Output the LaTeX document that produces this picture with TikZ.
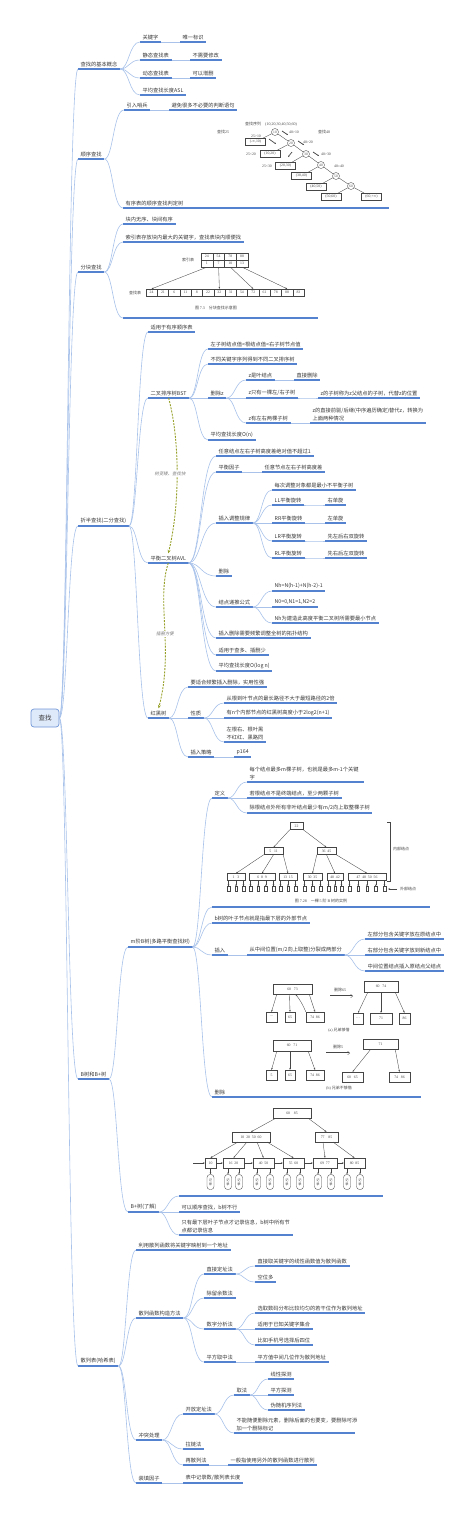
\documentclass[tikz,border=0pt]{standalone}
\usepackage{fontspec}
\setmainfont{Noto Sans CJK SC}
\newfontfamily\figfont{Liberation Serif}
\newfontfamily\slfont[FakeSlant=0.2]{Noto Sans CJK SC}
\usetikzlibrary{arrows.meta, calc}
\definecolor{mapB}{RGB}{84,130,207}
\definecolor{mapL}{RGB}{168,194,234}
\definecolor{mapT}{RGB}{55,55,55}
\definecolor{rootF}{RGB}{222,233,249}
\definecolor{rootD}{RGB}{112,150,214}
\definecolor{figO}{RGB}{150,160,40}
\definecolor{figN}{RGB}{125,125,125}
\definecolor{figK}{RGB}{70,70,70}
\tikzset{
  uline/.style={draw=mapB, line width=1.1pt},
  topic/.style={anchor=south west, inner xsep=2.5pt, inner ysep=2.2pt, text=mapT,
    font=\fontsize{5.25}{7.6}\selectfont,
    append after command={(\tikzlastnode.south west) edge[uline] (\tikzlastnode.south east)}},
  twidth/.style={text width=#1, align=left},
  rootbox/.style={draw=rootD, fill=rootF, rounded corners=3pt, line width=0.7pt,
    minimum width=28pt, minimum height=18pt, text=mapT, font=\fontsize{6.5}{7}\selectfont},
  br/.style={draw=mapL, line width=0.6pt},
  ftxt/.style={inner sep=0.5pt, text=figK, font=\fontsize{4}{4.5}\selectfont},
  ntxt/.style={inner sep=0.5pt, text=figK, font=\figfont\fontsize{3.8}{4}\selectfont},
  kbox/.style={draw=figK, line width=0.35pt, inner sep=0.4pt, minimum height=7pt, text=figK,
    font=\figfont\fontsize{3.8}{4}\selectfont},
  cnode/.style={draw=figK, circle, line width=0.35pt, inner sep=0pt, minimum size=7pt, text=figK,
    font=\figfont\fontsize{3.6}{4}\selectfont},
  rec/.style={draw=figK, fill=white, line width=0.35pt, rounded corners=3pt, minimum width=7pt, minimum height=15pt,
    inner sep=0pt, align=center, text=figK, font=\fontsize{3.2}{3.8}\selectfont},
  fline/.style={draw=figK, line width=0.35pt},
  farr/.style={fline, -{Stealth[length=2pt, width=1.5pt]}},
  hint/.style={draw=figO, line width=0.9pt, dash pattern=on 2pt off 1.2pt, -{Stealth[length=3.5pt, width=3pt]}},
  hintlbl/.style={fill=white, inner sep=0.6pt, text=figN, font=\slfont\fontsize{4.4}{5}\selectfont}
}
\begin{document}
\begin{tikzpicture}[x=1pt, y=-1pt]
\useasboundingbox (0,0) rectangle (474,1516);
% root and main branches
\node[rootbox] (root) at (45,718) {查找};
\node[topic] (gn) at (78,69) {查找的基本概念};
\node[topic] (sx) at (78,159) {顺序查找};
\node[topic] (fk) at (78,272) {分块查找};
\node[topic] (zb) at (78,526) {折半查找(二分查找)};
\node[topic] (bt) at (78,1079) {B树和B+树};
\node[topic] (sl) at (78,1366) {散列表(哈希表)};
% basic concepts
\node[topic] (gjz) at (140,42) {关键字};
\node[topic] (wy) at (180,42) {唯一标识};
\node[topic] (jt) at (140,60) {静态查找表};
\node[topic] (bx) at (190,60) {不需要修改};
\node[topic] (dt) at (140,78) {动态查找表};
\node[topic] (kz) at (190,78) {可以增删};
\node[topic] (asl) at (140,95) {平均查找长度ASL};
% sequential search
\node[topic] (sb) at (124,110) {引入哨兵};
\node[topic] (sb2) at (169,110) {避免很多不必要的判断语句};
\node[topic, twidth=261pt] (pd) at (123,208) {有序表的顺序查找判定树};
% block search
\node[topic] (fk1) at (123,224) {块内无序、块间有序};
\node[topic] (fk2) at (123,242) {索引表存放块内最大的关键字，查找表块内顺便找};
\node[topic, minimum width=195pt] (fk3) at (123,318) {};
% binary search
\node[topic] (yx) at (148,332) {适用于有序顺序表};
\node[topic] (bst) at (148,398) {二叉排序树BST};
\node[topic] (avl) at (148,563) {平衡二叉树AVL};
\node[topic] (rbt) at (148,718) {红黑树};
\node[topic] (b1) at (208,349) {左子树结点值<根结点值<右子树节点值};
\node[topic] (b2) at (208,364) {不同关键字序列得到不同二叉排序树};
\node[topic] (b3) at (208,398) {删除z};
\node[topic] (b4) at (208,440) {平均查找长度O(n)};
\node[topic] (z1) at (246,380) {z是叶结点};
\node[topic] (z1a) at (294,380) {直接删除};
\node[topic] (z2) at (246,398) {z只有一棵左/右子树};
\node[topic] (z2a) at (318,398) {z的子树称为z父结点的子树，代替z的位置};
\node[topic] (z3) at (246,423) {z有左右两棵子树};
\node[topic, twidth=111pt] (z3a) at (310,423) {z的直接前驱/后继(中序遍历确定)替代z，转换为\\上面两种情况};
% AVL
\node[topic] (a1) at (216,456) {任意结点左右子树高度差绝对值不超过1};
\node[topic] (a2) at (216,472) {平衡因子};
\node[topic] (a2a) at (262,472) {任意节点左右子树高度差};
\node[topic] (a3) at (216,523) {插入调整规律};
\node[topic] (a4) at (216,576) {删除};
\node[topic] (a5) at (216,607) {结点递推公式};
\node[topic] (a6) at (216,638) {插入删除需要频繁调整全树的拓扑结构};
\node[topic] (a7) at (216,655) {适用于查多、插删少};
\node[topic] (a8) at (216,671) {平均查找长度O(log n)};
\node[topic] (r0) at (272,490) {每次调整对象都是最小不平衡子树};
\node[topic] (r1) at (272,505) {LL平衡旋转};
\node[topic] (r1a) at (325,505) {右单旋};
\node[topic] (r2) at (272,523) {RR平衡旋转};
\node[topic] (r2a) at (325,523) {左单旋};
\node[topic] (r3) at (272,541) {LR平衡旋转};
\node[topic] (r3a) at (325,541) {先左后右双旋转};
\node[topic] (r4) at (272,558) {RL平衡旋转};
\node[topic] (r4a) at (325,558) {先右后左双旋转};
\node[topic] (n1) at (272,591) {Nh=N(h-1)+N(h-2)-1};
\node[topic] (n2) at (272,607) {N0=0,N1=1,N2=2};
\node[topic] (n3) at (272,623) {Nh为建造此高度平衡二叉树所需要最小节点};
% red-black tree
\node[topic] (h1) at (188,687) {要适合频繁插入删除，实用性强};
\node[topic] (h2) at (188,718) {性质};
\node[topic] (h3) at (188,757) {插入策略};
\node[topic] (h3a) at (234,757) {p164};
\node[topic] (x1) at (224,703) {从根到叶节点的最长路径不大于最短路径的2倍};
\node[topic] (x2) at (224,718) {有n个内部节点的红黑树高度小于2log2(n+1)};
\node[topic, twidth=37pt] (x3) at (224,742) {左根右、根叶黑\\不红红、黑路同};
% B-tree and B+ tree
\node[topic] (mb) at (128,947) {m阶B树(多路平衡查找树)};
\node[topic] (bp) at (128,1212) {B+树(了解)};
\node[topic] (dy) at (212,798) {定义};
\node[topic, minimum width=218pt] (bfig) at (212,907) {};
\node[topic] (yz) at (212,923) {b树的叶子节点就是指最下层的外部节点};
\node[topic] (cr) at (212,955) {插入};
\node[topic, twidth=204pt] (sc) at (212,1097) {删除};
\node[topic, twidth=112pt] (d1) at (247,782) {每个结点最多m棵子树，也就是最多m-1个关键\\字};
\node[topic] (d2) at (247,798) {若根结点不是终端结点，至少两颗子树};
\node[topic] (d3) at (247,813) {除根结点外所有非叶结点最少有m/2向上取整棵子树};
\node[topic] (cr1) at (247,955) {从中间位置(m/2向上取整)分裂成两部分};
\node[topic] (p1) at (365,939) {左部分包含关键字放在原结点中};
\node[topic] (p2) at (365,955) {右部分包含关键字放到新结点中};
\node[topic] (p3) at (365,971) {中间位置结点插入原结点父结点};
\node[topic, minimum width=204pt] (bpfig) at (179,1196) {};
\node[topic] (bp1) at (179,1212) {可以顺序查找，b树不行};
\node[topic, twidth=109pt] (bp2) at (179,1235) {只有最下层叶子节点才记录信息，b树中所有节\\点都记录信息};
% hashing
\node[topic] (s1) at (136,1250) {利用散列函数将关键字映射到一个地址};
\node[topic] (s2) at (136,1318) {散列函数构造方法};
\node[topic] (s3) at (136,1440) {冲突处理};
\node[topic] (s4) at (136,1483) {装填因子};
\node[topic] (s4a) at (183,1483) {表中记录数/散列表长度};
\node[topic] (g1) at (204,1274) {直接定址法};
\node[topic] (g1a) at (255,1266) {直接取关键字的线性函数值为散列函数};
\node[topic] (g1b) at (255,1282) {空位多};
\node[topic] (g2) at (204,1298) {除留余数法};
\node[topic] (g3) at (204,1329) {数字分析法};
\node[topic] (g3a) at (255,1313) {选取数码分布比较均匀的若干位作为散列地址};
\node[topic] (g3b) at (255,1329) {适用于已知关键字集合};
\node[topic] (g3c) at (255,1345) {比如手机号选择后四位};
\node[topic] (g4) at (204,1362) {平方取中法};
\node[topic] (g4a) at (255,1362) {平方值中间几位作为散列地址};
\node[topic] (k1) at (183,1414) {开放定址法};
\node[topic] (k1a) at (234,1395) {取法};
\node[topic] (t1) at (268,1379) {线性探测};
\node[topic] (t2) at (268,1395) {平方探测};
\node[topic] (t3) at (268,1410) {伪随机序列法};
\node[topic, twidth=116pt] (k1b) at (234,1433) {不能随便删除元素，删除后面的也要变，要删除可添\\加一个删除标记};
\node[topic] (k2) at (183,1449) {拉链法};
\node[topic] (k3) at (183,1465) {再散列法};
\node[topic] (k3a) at (228,1465) {一般指使用另外的散列函数进行散列};
% curved connectors
\foreach \b in {gn,sx,fk,zb,bt,sl}
  \draw[br] let \p1=(root.east), \p2=(\b.south west) in
    (\p1) .. controls ({\x1+0.45*(\x2-\x1)},\y1) and ({\x1+0.45*(\x2-\x1)},\y2) .. (\p2);
\foreach \a/\b in {gn/gjz,gn/jt,gn/dt,gn/asl,gjz/wy,jt/bx,dt/kz,sx/sb,sx/pd,sb/sb2,fk/fk1,fk/fk2,fk/fk3,
    zb/yx,zb/bst,zb/avl,zb/rbt,bst/b1,bst/b2,bst/b3,bst/b4,b3/z1,b3/z2,b3/z3,z1/z1a,z2/z2a,z3/z3a,
    avl/a1,avl/a2,avl/a3,avl/a4,avl/a5,avl/a6,avl/a7,avl/a8,a2/a2a,a3/r0,a3/r1,a3/r2,a3/r3,a3/r4,
    r1/r1a,r2/r2a,r3/r3a,r4/r4a,a5/n1,a5/n2,a5/n3,rbt/h1,rbt/h2,rbt/h3,h2/x1,h2/x2,h2/x3,h3/h3a,
    bt/mb,bt/bp,mb/dy,mb/bfig,mb/yz,mb/cr,mb/sc,dy/d1,dy/d2,dy/d3,cr/cr1,cr1/p1,cr1/p2,cr1/p3,
    bp/bpfig,bp/bp1,bp/bp2,sl/s1,sl/s2,sl/s3,sl/s4,s4/s4a,s2/g1,s2/g2,s2/g3,s2/g4,g1/g1a,g1/g1b,
    g3/g3a,g3/g3b,g3/g3c,g4/g4a,s3/k1,s3/k2,s3/k3,k1/k1a,k1/k1b,k1a/t1,k1a/t2,k1a/t3,k3/k3a}
  \draw[br] let \p1=(\a.south east), \p2=(\b.south west) in
    (\p1) .. controls ({\x1+0.45*(\x2-\x1)},\y1) and ({\x1+0.45*(\x2-\x1)},\y2) .. (\p2);
% dashed hints between tree kinds
\draw[hint] (bst.south) .. controls (180,440) and (180,505) .. (avl.north);
\node[hintlbl] (hl1) at (170,474) {树变矮、查找快};
\draw[hint] (avl.south) .. controls (156,600) and (174,650) .. (rbt.north);
\node[hintlbl] (hl2) at (165,634) {插删方便};
% decision tree of ordered sequential search
\node[ftxt] (sqt) at (271,124) {查找序列\quad{\figfont (10,20,30,40,50,60)}};
\node[ftxt] (q25) at (223,132) {查找{\figfont 25}};
\node[ftxt] (q40) at (324,132) {查找{\figfont 40}};
\foreach \v/\px/\py in {10/275/132,20/291/143,30/306/154,40/321/165,50/336/176,60/351/186}
  \node[cnode] (c\v) at (\px,\py) {\v};
\foreach \i/\t/\px/\py in {1/{(-∞,10)}/255.5/142, 2/{(10,20)}/270/154, 3/{(20,30)}/285.5/166,
    4/{(30,40)}/301.5/176, 5/{(40,50)}/316/187, 6/{(50,60)}/331/197, 7/{(60,+∞)}/371.5/197}
  \node[kbox, minimum width=20pt] (d\i) at (\px,\py) {\t};
\foreach \a/\b in {c10/d1,c10/c20,c20/d2,c20/c30,c30/d3,c30/c40,c40/d4,c40/c50,c50/d5,c50/c60,c60/d6,c60/d7}
  \draw[fline] (\a) -- (\b);
\foreach \t/\px/\py [count=\k] in {25>10/256/136, 40>10/294/132, 40>20/308/142, 25<20/251/154,
    40>30/326/154, 25<30/267/166, 40=40/339/166}
  \node[ntxt] (lb\k) at (\px,\py) {\t};
\foreach \xa/\ya/\xb/\yb in {269/139/276/144, 282/131/288/135, 298/141/304/145, 292/152/288/157, 313/152/319/156}
  \draw[fline, line width=0.7pt, -{Stealth[length=1.6pt, width=1.4pt]}] (\xa,\ya) -- (\xb,\yb);
% block search figure
\node[ftxt] (syb) at (188,260) {索引表};
\foreach \v [count=\i] in {24,54,78,88}
  \node[kbox, minimum width=11.75pt] (ia\i) at ({201+(\i-0.5)*11.75},256.5) {\v};
\foreach \v [count=\i] in {1,7,10,13}
  \node[kbox, minimum width=11.75pt] (ib\i) at ({201+(\i-0.5)*11.75},263.5) {\v};
\node[ftxt] (czb) at (135,293) {查找表};
\foreach \v [count=\i] in {24,21,6,11,8,22,32,31,54,72,61,78,88,83}
  \node[kbox, minimum width=11.29pt] (ck\i) at ({146+(\i-0.5)*11.29},292.5) {\v};
\foreach \a/\b in {ib1/ck1,ib2/ck7,ib3/ck10,ib4/ck13}
  \draw[farr] (\a.south) -- (\b.north);
\node[ftxt] (cap1) at (216,308) {图 {\figfont 7.3}\quad 分块查找示意图};
% 5-order B-tree figure
\node[kbox, minimum width=13pt] (w0) at (296.5,826) {22};
\node[kbox, minimum width=19pt] (w1) at (273.5,851) {5\ \ \ 11};
\node[kbox, minimum width=19pt] (w2) at (326.5,851) {36\ \ 45};
\foreach \i/\t/\xl/\xr in {1/{1\ \ \ 3}/227/245, 2/{6\ \ 8\ \ 9}/249/275, 3/{13\ \ 15}/279/297,
    4/{30\ \ 35}/303/322, 5/{40\ \ 42}/327/343, 6/{47\ \ 48\ \ 50\ \ 56}/348/386}
  \node[kbox, minimum width={\xr-\xl}] (u\i) at ({(\xl+\xr)/2},877) {\t};
\draw[farr] (w0.south west) -- (w1.north);
\draw[farr] (w0.south east) -- (w2.north);
\draw[farr] (w1.south west) -- (u1.north);
\draw[farr] (w1.south) -- (u2.north);
\draw[farr] (w1.south east) -- (u3.north);
\draw[farr] (w2.south west) -- (u4.north);
\draw[farr] (w2.south) -- (u5.north);
\draw[farr] (w2.south east) -- (u6.north);
\foreach \xl/\xr/\n in {227/245/3, 249/275/4, 279/297/3, 303/322/3, 327/343/3, 348/386/5}
  \foreach \j in {1,...,\n}
    {\pgfmathsetmacro{\lx}{\xl+1.5+(\j-1)*(\xr-\xl-3)/(\n-1)}
     \draw[farr] (\lx,880.5) -- (\lx,886.5);
     \draw[fline] (\lx-1.3,886.5) rectangle (\lx+1.3,891);}
\draw[fline] (387,822) -- (390,822) -- (390,881) -- (387,881);
\node[ftxt] (nbj) at (401,849) {内部结点};
\draw[farr] (397,889) -- (388,889);
\node[ftxt] (wbj) at (408,889) {外部结点};
\node[ftxt] (cap2) at (321,901) {图 {\figfont 7.28}\quad 一棵 {\figfont 5} 阶 {\figfont B} 树的实例};
% deletion figures
\node[kbox, minimum width=39pt, minimum height=10pt] (pa) at (292.5,989) {60\ \ \ 73};
\node[kbox, minimum width=11pt, minimum height=10pt] (pa1) at (271.5,1017) {···};
\node[kbox, minimum width=10pt, minimum height=10pt] (pa2) at (290,1017) {65};
\node[kbox, minimum width=18pt, minimum height=10pt] (pa3) at (315,1017) {74\ \ 86};
\draw[farr] ($(pa.south west)+(4,0)$) -- (pa1.north);
\draw[farr] ($(pa.south)+(-3,0)$) -- (pa2.north);
\draw[farr] ($(pa.south east)+(-3,0)$) -- (pa3.north);
\draw[farr] (pa3.north west) .. controls (302,1003) and (300,1000) .. ($(pa.south)+(3,0)$);
\node[ftxt] (del1) at (340,990) {删除{\figfont 65}};
\draw[figK, line width=0.3pt, double distance=1pt, -{Implies}] (330,996) -- (353,996);
\node[kbox, minimum width=34pt, minimum height=11pt] (qa) at (381,986.5) {60\ \ \ 74};
\node[kbox, minimum width=10pt, minimum height=11pt] (qa1) at (358,1018.5) {···};
\node[kbox, minimum width=22pt, minimum height=11pt] (qa2) at (381,1018.5) {71};
\node[kbox, minimum width=11pt, minimum height=11pt] (qa3) at (404.5,1018.5) {86};
\draw[farr] ($(qa.south west)+(4,0)$) -- (qa1.north);
\draw[farr] (qa.south) -- (qa2.north);
\draw[farr] ($(qa.south east)+(-3,0)$) -- (qa3.north);
\node[ftxt] (cap3) at (339,1030) {{\figfont (a)} 兄弟够借};
\node[kbox, minimum width=38pt, minimum height=11pt] (pb) at (292,1045.5) {60\ \ \ 71};
\node[kbox, minimum width=11pt, minimum height=10pt] (pb1) at (271.5,1075) {5};
\node[kbox, minimum width=10pt, minimum height=10pt] (pb2) at (290,1075) {65};
\node[kbox, minimum width=18pt, minimum height=10pt] (pb3) at (315,1075) {74\ \ 86};
\draw[farr] ($(pb.south west)+(4,0)$) -- (pb1.north);
\draw[farr] ($(pb.south)+(-2,0)$) -- (pb2.north);
\draw[farr] ($(pb.south east)+(-3,0)$) -- (pb3.north);
\node[ftxt] (del2) at (338,1047) {删除{\figfont 5}};
\draw[figK, line width=0.3pt, double distance=1pt, -{Implies}] (326,1053) -- (350,1053);
\node[kbox, minimum width=35pt, minimum height=10pt] (qb) at (380.5,1044) {71};
\node[kbox, minimum width=21pt, minimum height=10pt] (qb1) at (352.5,1077) {60\ \ \ 65};
\node[kbox, minimum width=21pt, minimum height=10pt] (qb2) at (399.5,1077) {74\ \ \ 86};
\draw[farr] ($(qb.south west)+(8,0)$) -- (qb1.north);
\draw[farr] ($(qb.south east)+(-3,0)$) -- (qb2.north);
\node[ftxt] (cap4) at (339,1088) {{\figfont (b)} 兄弟不够借};
% B+ tree figure
\node[kbox, minimum width=38pt, minimum height=10pt] (v0) at (292,1113) {60\ \ \ \ 85};
\node[kbox, minimum width=38pt, minimum height=10pt] (v1) at (251,1137) {10\ \ 20\ \ 50\ \ 60};
\node[kbox, minimum width=23pt, minimum height=10pt] (v2) at (326.5,1137) {77\ \ \ \ 85};
\foreach \i/\t/\px/\pw in {1/10/210.5/11, 2/{16\ \ 20}/233.5/21, 3/{40\ \ 50}/263.5/21,
    4/{55\ \ 60}/293.5/21, 5/{69\ \ 77}/325/24, 6/{80\ \ 85}/354.5/21}
  \node[kbox, minimum width=\pw, minimum height=10pt] (f\i) at (\px,1163) {\t};
\draw[farr] ($(v0.south west)+(3,0)$) -- (v1.north);
\draw[farr] ($(v0.south east)+(-3,0)$) -- (v2.north);
\draw[farr] (238,1142) -- (f1.north);
\draw[farr] (247,1142) -- (f2.north);
\draw[farr] (257,1142) -- (f3.north);
\draw[farr] (267,1142) -- (f4.north);
\draw[farr] (323,1142) -- (f5.north);
\draw[farr] (333,1142) -- (f6.north);
\coordinate (fin) at (193,1163);
\draw[farr] (fin) -- (f1.west);
\foreach \a/\b in {f1/f2,f2/f3,f3/f4,f4/f5,f5/f6}
  \draw[farr] (\a.east) -- (\b.west);
\foreach \px [count=\i] in {210.5,228,239,257,270,287,300,318,331,347,360}
  {\node[rec] (rc\i) at (\px,1182) {记\\录};
   \draw[farr] (\px,1168) -- (rc\i.north);}
\end{tikzpicture}
\end{document}
